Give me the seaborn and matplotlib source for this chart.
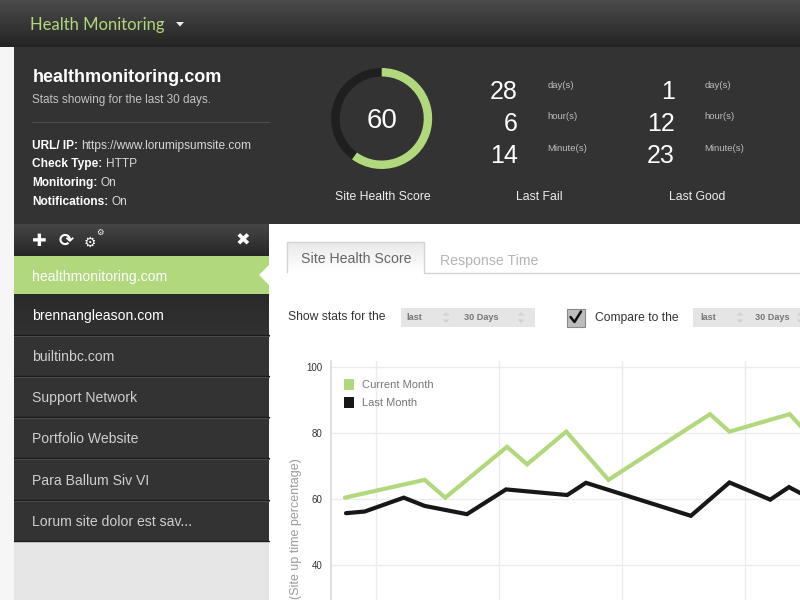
import numpy as np
import pandas as pd
import matplotlib
matplotlib.use('Agg')
import matplotlib.pyplot as plt
import seaborn as sns
from matplotlib.patches import Rectangle, Polygon, Wedge, Patch

# chart data
current_x = [3.73, 6.97, 7.81, 10.32, 11.14, 12.73, 14.45, 18.58, 19.37, 21.82, 22.30]
current_y = [60.4, 65.8, 60.4, 75.8, 70.5, 80.4, 65.8, 85.7, 80.4, 85.7, 81.8]
last_x = [3.77, 4.53, 6.12, 6.97, 8.69, 10.28, 12.77, 13.53, 17.80, 19.37, 21.03, 21.79, 22.30]
last_y = [55.7, 56.2, 60.4, 57.9, 55.4, 62.9, 61.2, 64.9, 54.9, 65.0, 59.8, 63.6, 61.6]
y_ticks = [40, 60, 80, 100]
x_grid = [5, 10, 15, 20]

# dashboard content
health_score = 60
site_rows = ['healthmonitoring.com', 'brennangleason.com', 'builtinbc.com', 'Support Network',
             'Portfolio Website', 'Para Ballum Siv VI', 'Lorum site dolor est sav...']
row_edges = [256, 294, 335, 376, 417, 458, 500, 541]
info_keys = ['URL/ IP:', 'Check Type:', 'Monitoring:', 'Notifications:']
info_vals = ['https://www.lorumipsumsite.com', 'HTTP', 'On', 'On']
last_fail = ['28', '6', '14']
last_good = ['1', '12', '23']
units = ['day(s)', 'hour(s)', 'Minute(s)']

GREEN = '#b1d87c'
BLACK = '#171717'
PANEL = '#333333'

sns.set_theme(style='whitegrid')
plt.rcParams['font.family'] = ['Liberation Sans', 'DejaVu Sans']

fig = plt.figure(figsize=(8, 6), dpi=100)

# page chrome, in pixel coordinates
bg = fig.add_axes([0, 0, 1, 1])
bg.set_xlim(0, 800)
bg.set_ylim(600, 0)
bg.axis('off')


def box(x0, y0, x1, y1, color, **kw):
    bg.add_patch(Rectangle((x0, y0), x1 - x0, y1 - y0, facecolor=color, edgecolor='none', **kw))


def grad(x0, y0, x1, y1, top, bottom):
    cmap = matplotlib.colors.LinearSegmentedColormap.from_list('g', [top, bottom])
    bg.imshow(np.linspace(0, 1, 64).reshape(-1, 1), cmap=cmap, extent=(x0, x1, y1, y0),
              aspect='auto', zorder=1)


def txt(x, y, s, size=8, color='white', weight='normal', ha='left', **kw):
    # centre on the glyphs rather than the line box
    return bg.text(x, y + size * 0.12, s, fontsize=size, color=color, weight=weight, ha=ha,
                   va='center', zorder=5, **kw)


def tri(points, color):
    bg.add_patch(Polygon(points, facecolor=color, edgecolor='none', zorder=5))


box(0, 0, 800, 600, '#f6f6f6', zorder=0)
box(14, 541, 269, 600, '#e6e6e6', zorder=0)
box(269, 224, 800, 600, 'white', zorder=0)

# top bar
grad(0, 0, 800, 47, '#4b4b4b', '#242424')
txt(30, 23.5, 'Health Monitoring', size=12, color=GREEN, family='Lato')
tri([(176, 22), (184, 22), (180, 26.5)], '#eeeeee')

# header panel
box(14, 47, 800, 224, PANEL, zorder=1)
txt(32.5, 76, 'healthmonitoring.com', size=13, weight='bold')
txt(32.5, 98.5, 'Stats showing for the last 30 days.', size=8.5, color='#c4c4c4')
bg.plot([32, 269], [121.5, 121.5], color='#4d4d4d', lw=0.8, zorder=3)
renderer = fig.canvas.get_renderer()
for y, key, val in zip([144.5, 163, 182, 200.5], info_keys, info_vals):
    t = txt(32.5, y, key, size=8.6, weight='bold')
    x_end = bg.transData.inverted().transform(t.get_window_extent(renderer).max)[0]
    txt(x_end + 3, y, val, size=8.6, color='#d8d8d8')

# score ring
cx, cy = 381.7, 118.5
bg.add_patch(Wedge((cx, cy), 50.5, 0, 360, width=8.5, facecolor='#1f1f1f', edgecolor='none', zorder=3))
# y axis is flipped, so angles run clockwise from -90 (top)
bg.add_patch(Wedge((cx, cy), 50.5, -90, -90 + 360 * health_score / 100, width=8.5,
                   facecolor=GREEN, edgecolor='none', zorder=4))
txt(cx, 119, str(health_score), size=20, ha='center')
txt(382.5, 195.5, 'Site Health Score', size=8.8, color='#eeeeee', ha='center')

# last fail / last good
for right, u_x, vals, cap, cap_x in [(518, 547.5, last_fail, 'Last Fail', 539.5),
                                     (675, 704.5, last_good, 'Last Good', 697.5)]:
    for y, uy, v, u in zip([90, 122, 154], [84.5, 115.5, 147.5], vals, units):
        txt(right, y, v, size=18, ha='right')
        txt(u_x, uy, u, size=6.8, color='#bdbdbd')
    txt(cap_x, 195.5, cap, size=8.8, color='#eeeeee', ha='center')

# sidebar toolbar
grad(14, 224, 269, 256, '#464646', '#262626')
dj = dict(family='DejaVu Sans')
txt(39, 239, '\u271a', size=12.6, ha='center', **dj)
txt(66, 239, '\u27f3', size=13, ha='center', weight='bold', **dj)
txt(89.5, 242, '\u2699', size=10, ha='center', **dj)
txt(100, 232, '\u2699', size=6, ha='center', **dj)
txt(243, 239, '\u2716', size=12.6, ha='center', **dj)

# sidebar rows
for i, name in enumerate(site_rows):
    y0, y1 = row_edges[i], row_edges[i + 1]
    if i == 0:
        box(14, y0, 269, y1, GREEN, zorder=1)
        color = 'white'
    elif i == 1:
        grad(14, y0, 269, y1, '#2a2a2a', '#323232')
        color = 'white'
    else:
        box(14, y0, 269, y1, PANEL, zorder=1)
        color = '#cfcfcf'
    if i > 0:
        bg.plot([14, 269], [y1 - 0.5, y1 - 0.5], color='#1c1c1c', lw=1, zorder=3)
        if i < len(site_rows) - 1:
            bg.plot([14, 269], [y1 + 0.5, y1 + 0.5], color='#4c4c4c', lw=0.7, zorder=3)
    txt(32, (y0 + y1) / 2 + 0.5, name, size=10.1, color=color)
tri([(269, 265), (269, 285), (259, 275)], 'white')

# tabs
grad(287, 242, 424, 272, '#e9e9e9', '#ffffff')
bg.plot([287, 287, 424, 424, 800], [272, 242, 242, 273, 273], color='#d4d4d4', lw=1, zorder=3)
txt(301, 258, 'Site Health Score', size=10.2, color='#666666')
txt(440, 259.5, 'Response Time', size=10.2, color='#b5b5b5')

# filter row
txt(287.5, 316, 'Show stats for the', size=8.7, color='#333333')
txt(595, 317, 'Compare to the', size=8.7, color='#333333')
box(401, 308, 535, 326.5, '#e5e5e5', zorder=2)
box(693, 308, 800, 326.5, '#e5e5e5', zorder=2)
for x_last, x_day, x_arrows in [(406, 464, (446, 521)), (700, 755, (740, 800))]:
    txt(x_last, 317, 'last', size=6.6, color='#777777', weight='bold')
    txt(x_day, 317, '30 Days', size=6.6, color='#777777', weight='bold')
    for xa in x_arrows:
        tri([(xa - 3.5, 315.5), (xa + 3.5, 315.5), (xa, 312)], '#d2d2d2')
        tri([(xa - 3.5, 319.5), (xa + 3.5, 319.5), (xa, 323)], '#d2d2d2')
bg.add_patch(Rectangle((566.5, 308.5), 18, 18, facecolor='#bdbdbd', edgecolor='#8a8a8a', lw=0.8, zorder=3))
bg.plot([570.5, 574.5, 581], [317, 322, 311.5], color='#111111', lw=1.8, zorder=5)

# chart
top_px, left_px = 361, 331
ax = fig.add_axes([left_px / 800, 0, (800 - left_px) / 800, (600 - top_px) / 600])
ax.patch.set_alpha(0)
current = pd.DataFrame({'x': current_x, 'y': current_y})
last = pd.DataFrame({'x': last_x, 'y': last_y})
sns.lineplot(data=current, x='x', y='y', color=GREEN, linewidth=3, sort=False, ax=ax)
sns.lineplot(data=last, x='x', y='y', color=BLACK, linewidth=3, sort=False, ax=ax)
for line in ax.get_lines():
    line.set_solid_joinstyle('miter')

ax.set_xlim(3.16, 22.24)
ax.set_ylim(29.4, 101.8)
ax.set_xticks(x_grid)
ax.set_xticklabels([])
ax.set_yticks(y_ticks)
ax.grid(True, color='#ececec', linewidth=1)
ax.tick_params(axis='y', length=0, pad=6, labelsize=7, labelcolor='#333333')
ax.tick_params(axis='x', length=0)
for side in ['top', 'right', 'bottom']:
    ax.spines[side].set_visible(False)
ax.spines['left'].set_color('#d9d9d9')
ax.spines['left'].set_linewidth(1.2)
ax.set_xlabel('')
ax.set_ylabel('(Site up time percentage)', fontsize=9, color='#9a9a9a',
              y=(600 - 458) / (600 - top_px), ha='right', labelpad=3)

handles = [Patch(facecolor=GREEN, edgecolor='none', label='Current Month'),
           Patch(facecolor=BLACK, edgecolor='none', label='Last Month')]
ax.legend(handles=handles, loc='upper left', bbox_to_anchor=(0.028, 0.925), frameon=False,
          fontsize=8, labelcolor='#777777', handlelength=0.9, handleheight=1.1,
          handletextpad=0.72, labelspacing=0.65, borderaxespad=0, borderpad=0)

fig.savefig('out.png', dpi=100)
